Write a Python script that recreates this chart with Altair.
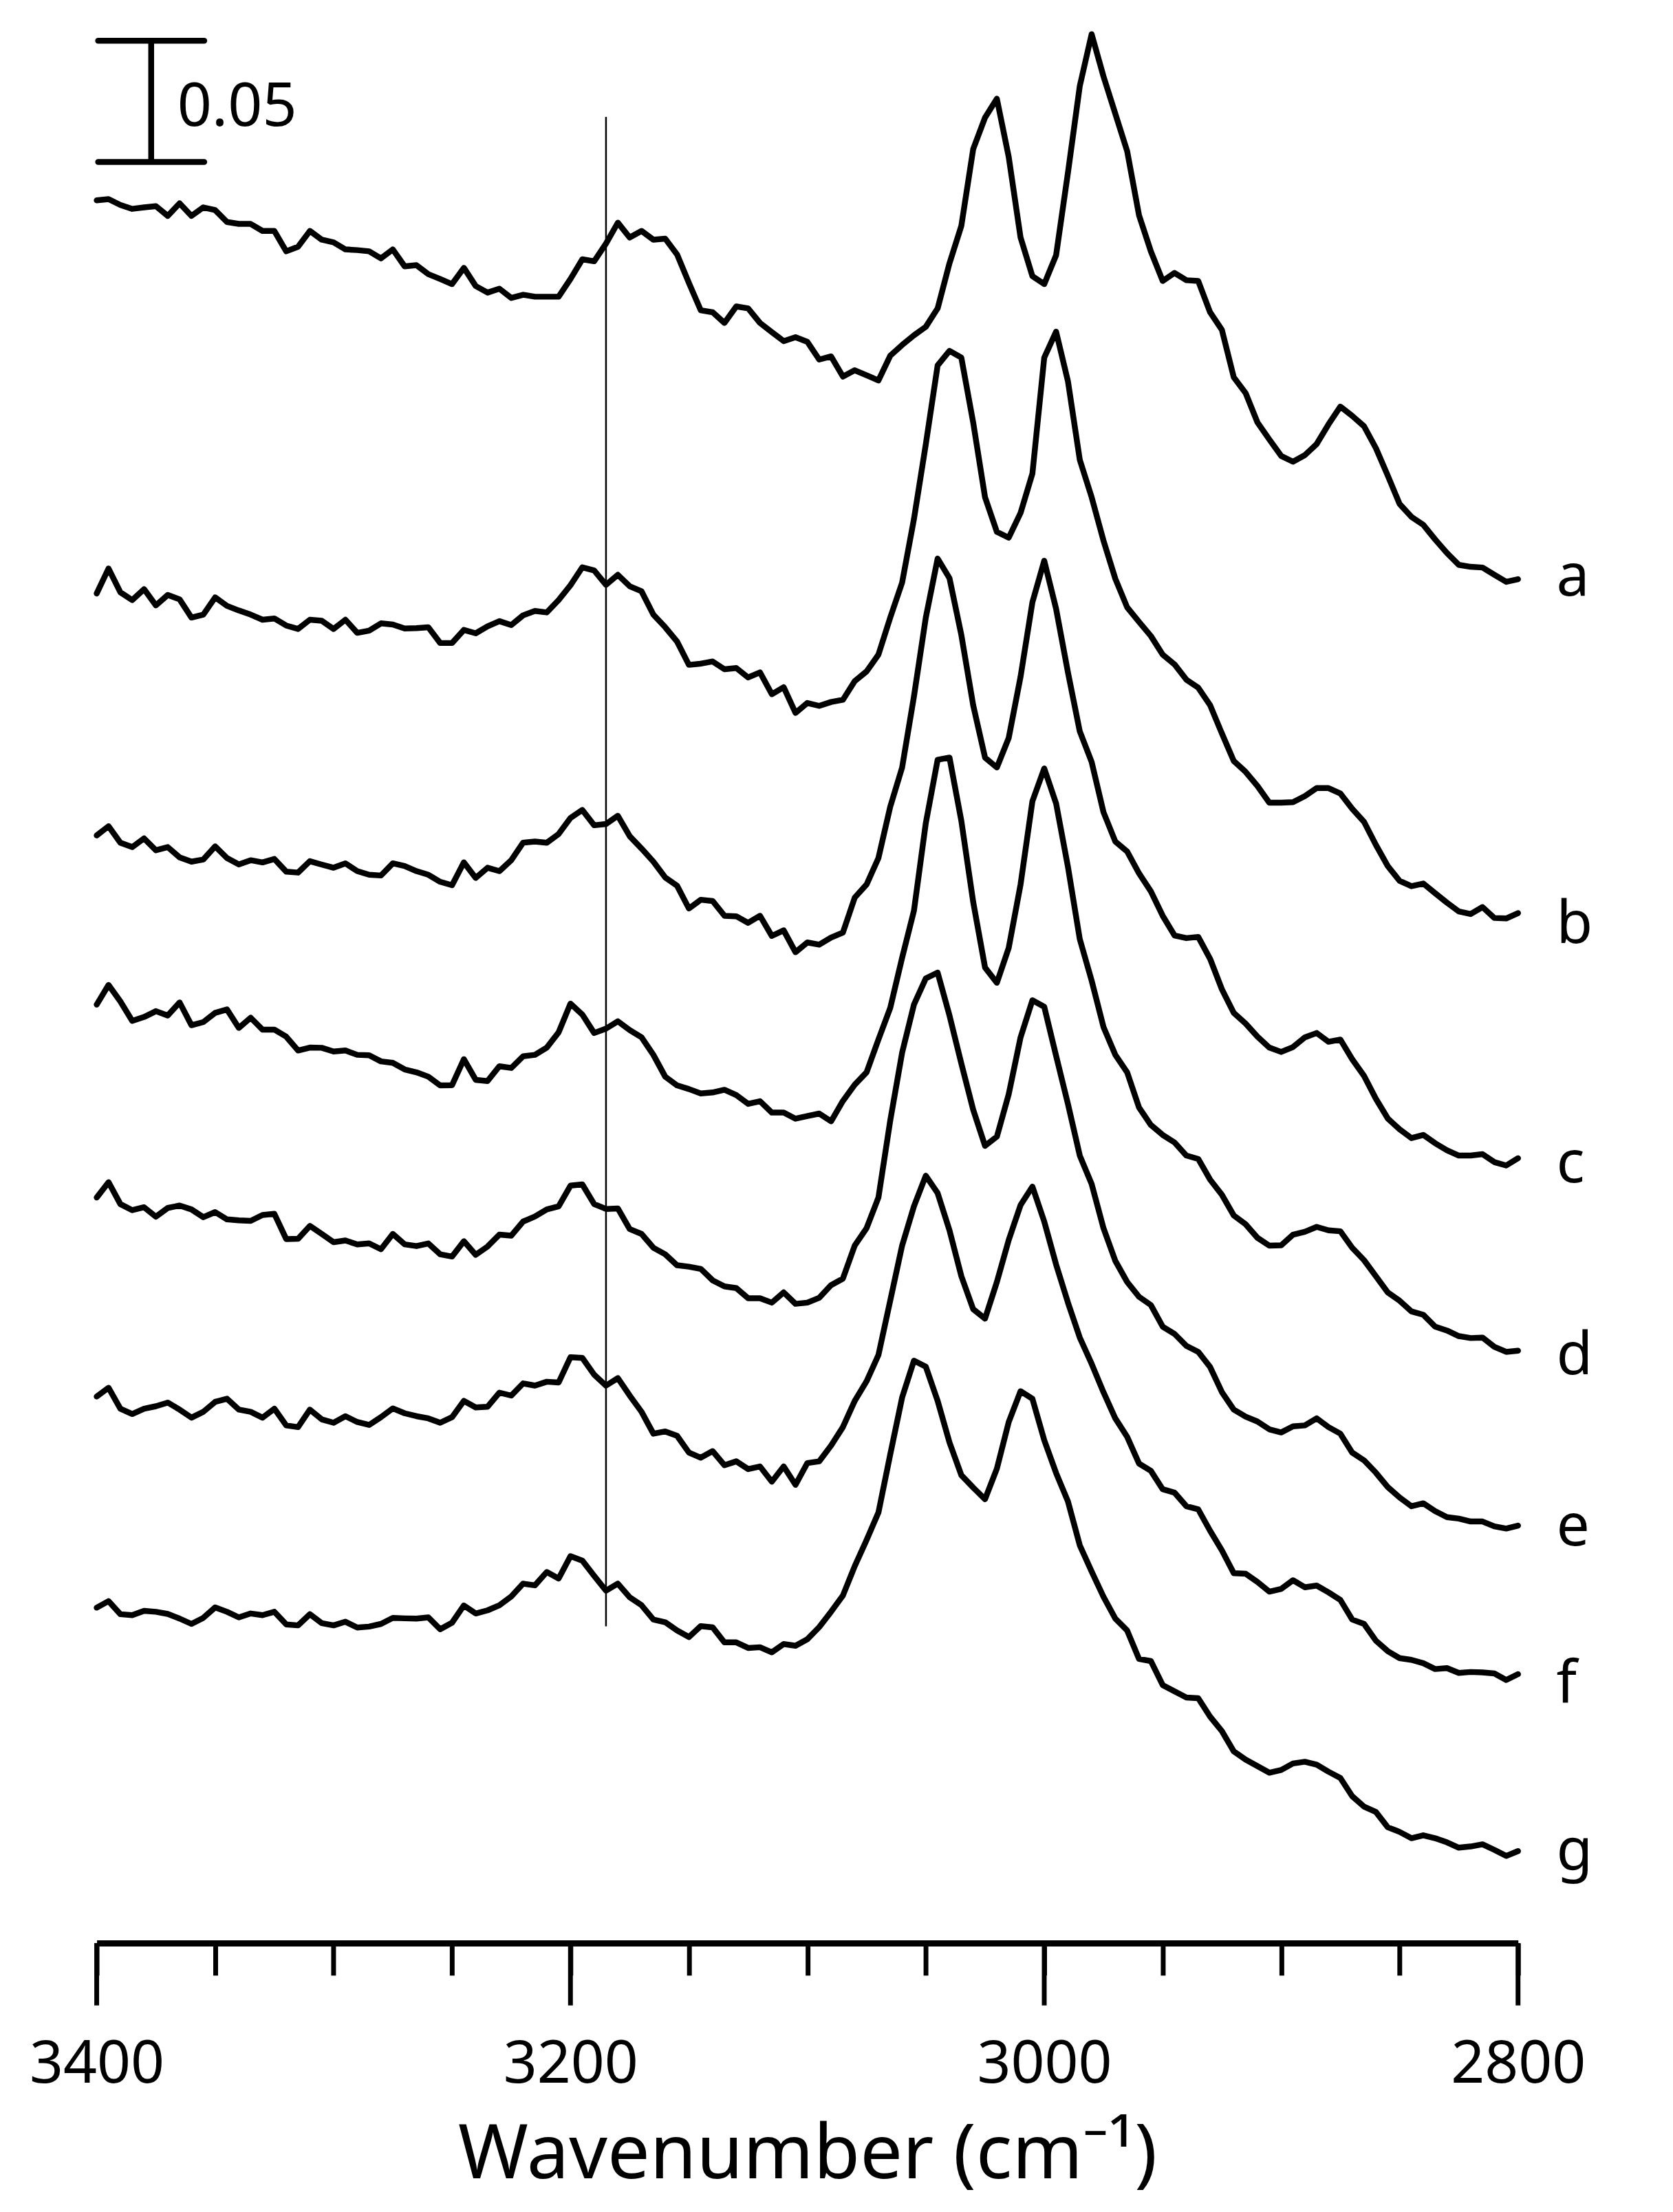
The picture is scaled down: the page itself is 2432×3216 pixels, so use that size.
import altair as alt
import pandas as pd

# ---------------- data ----------------
wavenumber = list(range(3400, 2795, -5))  # 3400 ... 2800 cm-1

trace_a = [
    0.7181, 0.7186, 0.7162, 0.7146, 0.7152, 0.7157, 0.7117, 0.7169, 0.7117, 0.7152,
    0.7141, 0.7092, 0.7084, 0.7084, 0.7055, 0.7055, 0.6971, 0.6990, 0.7055, 0.7019,
    0.7008, 0.6979, 0.6976, 0.6971, 0.6942, 0.6979, 0.6909, 0.6914, 0.6877, 0.6857,
    0.6836, 0.6903, 0.6828, 0.6801, 0.6817, 0.6779, 0.6792, 0.6784, 0.6784, 0.6784,
    0.6857, 0.6938, 0.6930, 0.7003,
    0.7089, 0.7028, 0.7055, 0.7019, 0.7023, 0.6958, 0.6841, 0.6728, 0.6720, 0.6676,
    0.6744, 0.6736, 0.6676, 0.6638, 0.6601, 0.6617, 0.6598, 0.6525, 0.6538, 0.6455,
    0.6481, 0.6460, 0.6439, 0.6541, 0.6585, 0.6625, 0.6660, 0.6736, 0.6922, 0.7076,
    0.7392, 0.7522, 0.7600, 0.7360, 0.7028, 0.6869, 0.6836, 0.6955, 0.7295, 0.7652,
    0.7866, 0.7692, 0.7538, 0.7384,
    0.7120, 0.6971, 0.6849, 0.6882, 0.6852, 0.6849, 0.6720, 0.6647, 0.6452, 0.6387,
    0.6266, 0.6196, 0.6128, 0.6104, 0.6131, 0.6177, 0.6258, 0.6331, 0.6293, 0.6250,
    0.6160, 0.6047, 0.5930, 0.5877, 0.5844, 0.5784, 0.5728, 0.5679, 0.5671, 0.5668,
    0.5638, 0.5609, 0.5620,
]
trace_b = [
    0.5561, 0.5664, 0.5566, 0.5534, 0.5579, 0.5512, 0.5555, 0.5537, 0.5462, 0.5474,
    0.5545, 0.5510, 0.5491, 0.5474, 0.5453, 0.5458, 0.5429, 0.5415, 0.5453, 0.5449,
    0.5415, 0.5453, 0.5399, 0.5408, 0.5438, 0.5433, 0.5417, 0.5418, 0.5422, 0.5357,
    0.5357, 0.5411, 0.5397, 0.5426, 0.5447, 0.5431, 0.5471, 0.5489, 0.5483, 0.5534,
    0.5595, 0.5669, 0.5656, 0.5597,
    0.5638, 0.5591, 0.5570, 0.5474, 0.5422, 0.5363, 0.5267, 0.5272, 0.5281, 0.5249,
    0.5254, 0.5215, 0.5236, 0.5146, 0.5175, 0.5069, 0.5110, 0.5098, 0.5114, 0.5123,
    0.5200, 0.5240, 0.5309, 0.5462, 0.5606, 0.5868, 0.6176, 0.6501, 0.6561, 0.6533,
    0.6266, 0.5958, 0.5815, 0.5791, 0.5893, 0.6055, 0.6533, 0.6640, 0.6436, 0.6112,
    0.5958, 0.5779, 0.5622, 0.5504,
    0.5444, 0.5386, 0.5309, 0.5269, 0.5206, 0.5173, 0.5101, 0.4984, 0.4871, 0.4826,
    0.4768, 0.4699, 0.4699, 0.4701, 0.4726, 0.4759, 0.4759, 0.4737, 0.4674, 0.4620,
    0.4525, 0.4438, 0.4377, 0.4355, 0.4366, 0.4326, 0.4287, 0.4251, 0.4240, 0.4269,
    0.4224, 0.4222, 0.4244,
]
trace_c = [
    0.4564, 0.4602, 0.4534, 0.4516, 0.4552, 0.4503, 0.4516, 0.4474, 0.4456, 0.4465,
    0.4519, 0.4471, 0.4445, 0.4462, 0.4453, 0.4467, 0.4415, 0.4411, 0.4458, 0.4444,
    0.4431, 0.4449, 0.4417, 0.4402, 0.4399, 0.4449, 0.4438, 0.4417, 0.4402, 0.4373,
    0.4359, 0.4453, 0.4389, 0.4431, 0.4417, 0.4462, 0.4534, 0.4539, 0.4534, 0.4570,
    0.4636, 0.4669, 0.4606, 0.4611,
    0.4645, 0.4561, 0.4510, 0.4456, 0.4391, 0.4357, 0.4263, 0.4299, 0.4294, 0.4233,
    0.4231, 0.4204, 0.4233, 0.4150, 0.4173, 0.4083, 0.4123, 0.4114, 0.4143, 0.4164,
    0.4308, 0.4362, 0.4471, 0.4683, 0.4844, 0.5137, 0.5462, 0.5705, 0.5624, 0.5390,
    0.5101, 0.4885, 0.4844, 0.4966, 0.5218, 0.5525, 0.5696, 0.5498, 0.5236, 0.4993,
    0.4867, 0.4660, 0.4539, 0.4498,
    0.4408, 0.4334, 0.4233, 0.4152, 0.4141, 0.4146, 0.4056, 0.3930, 0.3833, 0.3789,
    0.3735, 0.3690, 0.3672, 0.3692, 0.3732, 0.3750, 0.3714, 0.3723, 0.3642, 0.3573,
    0.3479, 0.3398, 0.3353, 0.3317, 0.3330, 0.3296, 0.3267, 0.3245, 0.3245, 0.3251,
    0.3218, 0.3204, 0.3234,
]
trace_d = [
    0.3867, 0.3948, 0.3880, 0.3800, 0.3816, 0.3840, 0.3822, 0.3876, 0.3782, 0.3795,
    0.3833, 0.3847, 0.3771, 0.3813, 0.3764, 0.3764, 0.3735, 0.3678, 0.3690, 0.3689,
    0.3674, 0.3678, 0.3660, 0.3658, 0.3633, 0.3627, 0.3600, 0.3588, 0.3570, 0.3534,
    0.3535, 0.3642, 0.3557, 0.3552, 0.3613, 0.3606, 0.3654, 0.3660, 0.3690, 0.3753,
    0.3871, 0.3826, 0.3750, 0.3768,
    0.3798, 0.3762, 0.3732, 0.3660, 0.3570, 0.3534, 0.3519, 0.3501, 0.3505, 0.3516,
    0.3494, 0.3458, 0.3469, 0.3422, 0.3422, 0.3397, 0.3408, 0.3418, 0.3386, 0.3470,
    0.3537, 0.3588, 0.3723, 0.3854, 0.4060, 0.4254, 0.4615, 0.4876, 0.4885, 0.4624,
    0.4290, 0.4020, 0.3957, 0.4101, 0.4362, 0.4705, 0.4840, 0.4696, 0.4435, 0.4137,
    0.3966, 0.3775, 0.3660, 0.3588,
    0.3443, 0.3371, 0.3330, 0.3299, 0.3245, 0.3231, 0.3146, 0.3083, 0.2998, 0.2962,
    0.2906, 0.2874, 0.2875, 0.2919, 0.2931, 0.2951, 0.2937, 0.2933, 0.2865, 0.2814,
    0.2748, 0.2681, 0.2647, 0.2603, 0.2589, 0.2540, 0.2524, 0.2501, 0.2493, 0.2495,
    0.2457, 0.2436, 0.2441,
]
trace_e = [
    0.3072, 0.3135, 0.3045, 0.3020, 0.3032, 0.2993, 0.3029, 0.3039, 0.3023, 0.2991,
    0.3012, 0.2982, 0.2978, 0.2976, 0.3000, 0.3005, 0.2901, 0.2902, 0.2955, 0.2922,
    0.2888, 0.2895, 0.2879, 0.2883, 0.2859, 0.2922, 0.2879, 0.2872, 0.2883, 0.2838,
    0.2829, 0.2892, 0.2836, 0.2870, 0.2919, 0.2915, 0.2973, 0.2994, 0.3023, 0.3036,
    0.3121, 0.3126, 0.3045, 0.3025,
    0.3027, 0.2942, 0.2922, 0.2865, 0.2838, 0.2793, 0.2787, 0.2778, 0.2731, 0.2706,
    0.2699, 0.2657, 0.2657, 0.2639, 0.2681, 0.2634, 0.2639, 0.2659, 0.2711, 0.2738,
    0.2874, 0.2946, 0.3072, 0.3390, 0.3669, 0.3867, 0.3975, 0.3999, 0.3822, 0.3624,
    0.3434, 0.3285, 0.3323, 0.3498, 0.3732, 0.3885, 0.3858, 0.3656, 0.3458, 0.3245,
    0.3128, 0.2946, 0.2811, 0.2724,
    0.2663, 0.2629, 0.2540, 0.2510, 0.2461, 0.2436, 0.2374, 0.2270, 0.2198, 0.2169,
    0.2149, 0.2117, 0.2104, 0.2129, 0.2133, 0.2162, 0.2126, 0.2099, 0.2021, 0.1989,
    0.1938, 0.1879, 0.1836, 0.1800, 0.1812, 0.1780, 0.1755, 0.1749, 0.1737, 0.1737,
    0.1717, 0.1708, 0.1720,
]
trace_f = [
    0.2252, 0.2288, 0.2202, 0.2180, 0.2202, 0.2212, 0.2227, 0.2198, 0.2165, 0.2189,
    0.2230, 0.2243, 0.2198, 0.2189, 0.2165, 0.2202, 0.2133, 0.2126, 0.2198, 0.2158,
    0.2144, 0.2171, 0.2147, 0.2135, 0.2167, 0.2203, 0.2183, 0.2171, 0.2162, 0.2144,
    0.2167, 0.2234, 0.2207, 0.2210, 0.2268, 0.2256, 0.2306, 0.2297, 0.2313, 0.2310,
    0.2414, 0.2411, 0.2342, 0.2297,
    0.2328, 0.2256, 0.2189, 0.2099, 0.2108, 0.2090, 0.2021, 0.2000, 0.2027, 0.1969,
    0.1985, 0.1953, 0.1964, 0.1901, 0.1964, 0.1888, 0.1978, 0.1985, 0.2050, 0.2126,
    0.2234, 0.2315, 0.2423, 0.2648, 0.2874, 0.3036, 0.3162, 0.3090, 0.2937, 0.2748,
    0.2612, 0.2573, 0.2724, 0.2897, 0.3041, 0.3117, 0.2973, 0.2796, 0.2639, 0.2495,
    0.2387, 0.2270, 0.2162, 0.2086,
    0.1976, 0.1946, 0.1870, 0.1856, 0.1800, 0.1787, 0.1699, 0.1618, 0.1524, 0.1522,
    0.1488, 0.1448, 0.1459, 0.1495, 0.1466, 0.1473, 0.1445, 0.1414, 0.1333, 0.1315,
    0.1246, 0.1203, 0.1174, 0.1167, 0.1153, 0.1129, 0.1133, 0.1113, 0.1117, 0.1115,
    0.1111, 0.1084, 0.1108,
]
trace_g = [
    0.1382, 0.1409, 0.1355, 0.1351, 0.1369, 0.1365, 0.1356, 0.1337, 0.1315, 0.1340,
    0.1383, 0.1365, 0.1342, 0.1358, 0.1351, 0.1365, 0.1313, 0.1309, 0.1355, 0.1318,
    0.1309, 0.1324, 0.1300, 0.1304, 0.1315, 0.1340, 0.1338, 0.1337, 0.1342, 0.1293,
    0.1320, 0.1391, 0.1358, 0.1371, 0.1392, 0.1428, 0.1481, 0.1474, 0.1529, 0.1502,
    0.1594, 0.1576, 0.1513, 0.1452,
    0.1481, 0.1425, 0.1392, 0.1333, 0.1322, 0.1288, 0.1261, 0.1306, 0.1301, 0.1239,
    0.1239, 0.1216, 0.1219, 0.1198, 0.1232, 0.1225, 0.1252, 0.1302, 0.1365, 0.1432,
    0.1553, 0.1661, 0.1774, 0.2014, 0.2248, 0.2400, 0.2375, 0.2234, 0.2063, 0.1928,
    0.1877, 0.1829, 0.1955, 0.2147, 0.2274, 0.2243, 0.2072, 0.1937, 0.1820, 0.1639,
    0.1531, 0.1427, 0.1337, 0.1288,
    0.1171, 0.1162, 0.1063, 0.1037, 0.1012, 0.1009, 0.0933, 0.0873, 0.0790, 0.0756,
    0.0729, 0.0702, 0.0713, 0.0740, 0.0747, 0.0735, 0.0706, 0.0680, 0.0605, 0.0562,
    0.0540, 0.0477, 0.0458, 0.0432, 0.0444, 0.0432, 0.0415, 0.0393, 0.0398, 0.0407,
    0.0384, 0.0359, 0.0379,
]

series_names = ["a", "b", "c", "d", "e", "f", "g"]
traces = [trace_a, trace_b, trace_c, trace_d, trace_e, trace_f, trace_g]
label_level = [0.5551, 0.4121, 0.3136, 0.2345, 0.1638, 0.0992, 0.0302]

marker_wn = 3185                    # thin vertical reference line
marker_range = [0.1305, 0.7525]

scale_value = 0.05                  # scale bar
scale_bar_wn = 3377
scale_bar_low = 0.7339
scale_cap_wn = [3399.4, 3354.6]
scale_text_wn = 3366
scale_text_level = 0.7489

tick_values = list(range(2800, 3401, 50))
major_ticks = [3400, 3200, 3000, 2800]

# ---------------- chart ----------------
for t in traces:
    assert len(t) == len(wavenumber)

rows = []
for name, vals in zip(series_names, traces):
    for w, v in zip(wavenumber, vals):
        rows.append({"wn": w, "A": v, "series": name})
df = pd.DataFrame(rows)

W, H = 2073, 2821
FONT = "Noto Sans"
LW = 8.5

x_scale = alt.Scale(domain=[3400, 2800], nice=False, zero=False)
y_scale = alt.Scale(domain=[0, 0.7969], nice=False, zero=False)

x_axis = alt.Axis(
    values=tick_values,
    labelExpr="datum.value % 200 === 0 ? datum.label : ''",
    format="d",
    tickSize=47, tickWidth=7, tickColor="black",
    domainColor="black", domainWidth=9,
    labelFont=FONT, labelFontSize=86, labelColor="black",
    labelPadding=88, labelOverlap=False, labelFlush=False, labelLimit=600,
    grid=False,
    title="Wavenumber (cm⁻¹)", titleFont=FONT, titleFontSize=110,
    titleFontWeight="normal", titleColor="black", titlePadding=56,
)

X = alt.X("wn:Q", scale=x_scale)

lines = alt.Chart(df).mark_line(
    color="black", strokeWidth=LW, strokeJoin="round", strokeCap="round"
).encode(
    x=alt.X("wn:Q", scale=x_scale, axis=x_axis),
    y=alt.Y("A:Q", scale=y_scale, axis=None),
    detail="series:N",
)

vline = alt.Chart(pd.DataFrame({"wn": [marker_wn], "lo": [marker_range[0]], "hi": [marker_range[1]]})).mark_rule(
    color="black", strokeWidth=2.5
).encode(
    x=X,
    y=alt.Y("lo:Q", scale=y_scale, axis=None),
    y2="hi:Q",
)

bar_df = pd.DataFrame({"wn": [scale_bar_wn], "lo": [scale_bar_low], "hi": [scale_bar_low + scale_value]})
bar = alt.Chart(bar_df).mark_rule(color="black", strokeWidth=LW).encode(
    x=X,
    y=alt.Y("lo:Q", scale=y_scale, axis=None),
    y2="hi:Q",
)
caps_df = pd.DataFrame({
    "wn": [scale_cap_wn[0]] * 2, "wn2": [scale_cap_wn[1]] * 2,
    "A": [scale_bar_low, scale_bar_low + scale_value],
})
caps = alt.Chart(caps_df).mark_rule(color="black", strokeWidth=LW, strokeCap="round").encode(
    x=X,
    x2="wn2:Q",
    y=alt.Y("A:Q", scale=y_scale, axis=None),
)
bar_text = alt.Chart(pd.DataFrame({"wn": [scale_text_wn], "A": [scale_text_level], "t": [f"{scale_value:.2f}"]})).mark_text(
    align="left", baseline="alphabetic", font=FONT, fontSize=88, color="black"
).encode(
    x=X,
    y=alt.Y("A:Q", scale=y_scale, axis=None),
    text="t:N",
)

labels_df = pd.DataFrame({"wn": [wavenumber[-1]] * len(series_names), "A": label_level, "label": series_names})
labels = alt.Chart(labels_df).mark_text(
    align="left", baseline="alphabetic", dx=56, font=FONT, fontSize=86, color="black"
).encode(
    x=X,
    y=alt.Y("A:Q", scale=y_scale, axis=None),
    text="label:N",
)

major = alt.Chart(pd.DataFrame({"wn": major_ticks})).mark_rule(color="black", strokeWidth=7).encode(
    x=X,
    y=alt.value(H),
    y2=alt.value(H + 91),
)

chart = alt.layer(lines, vline, bar, caps, bar_text, labels, major).properties(
    width=W, height=H,
    padding={"left": 133, "top": 0, "right": 218, "bottom": 379},
    autosize=alt.AutoSizeParams(type="none"),
    background="white",
).configure_view(stroke=None)

chart.save("out.html", embed_options={"renderer": "svg", "actions": False})
